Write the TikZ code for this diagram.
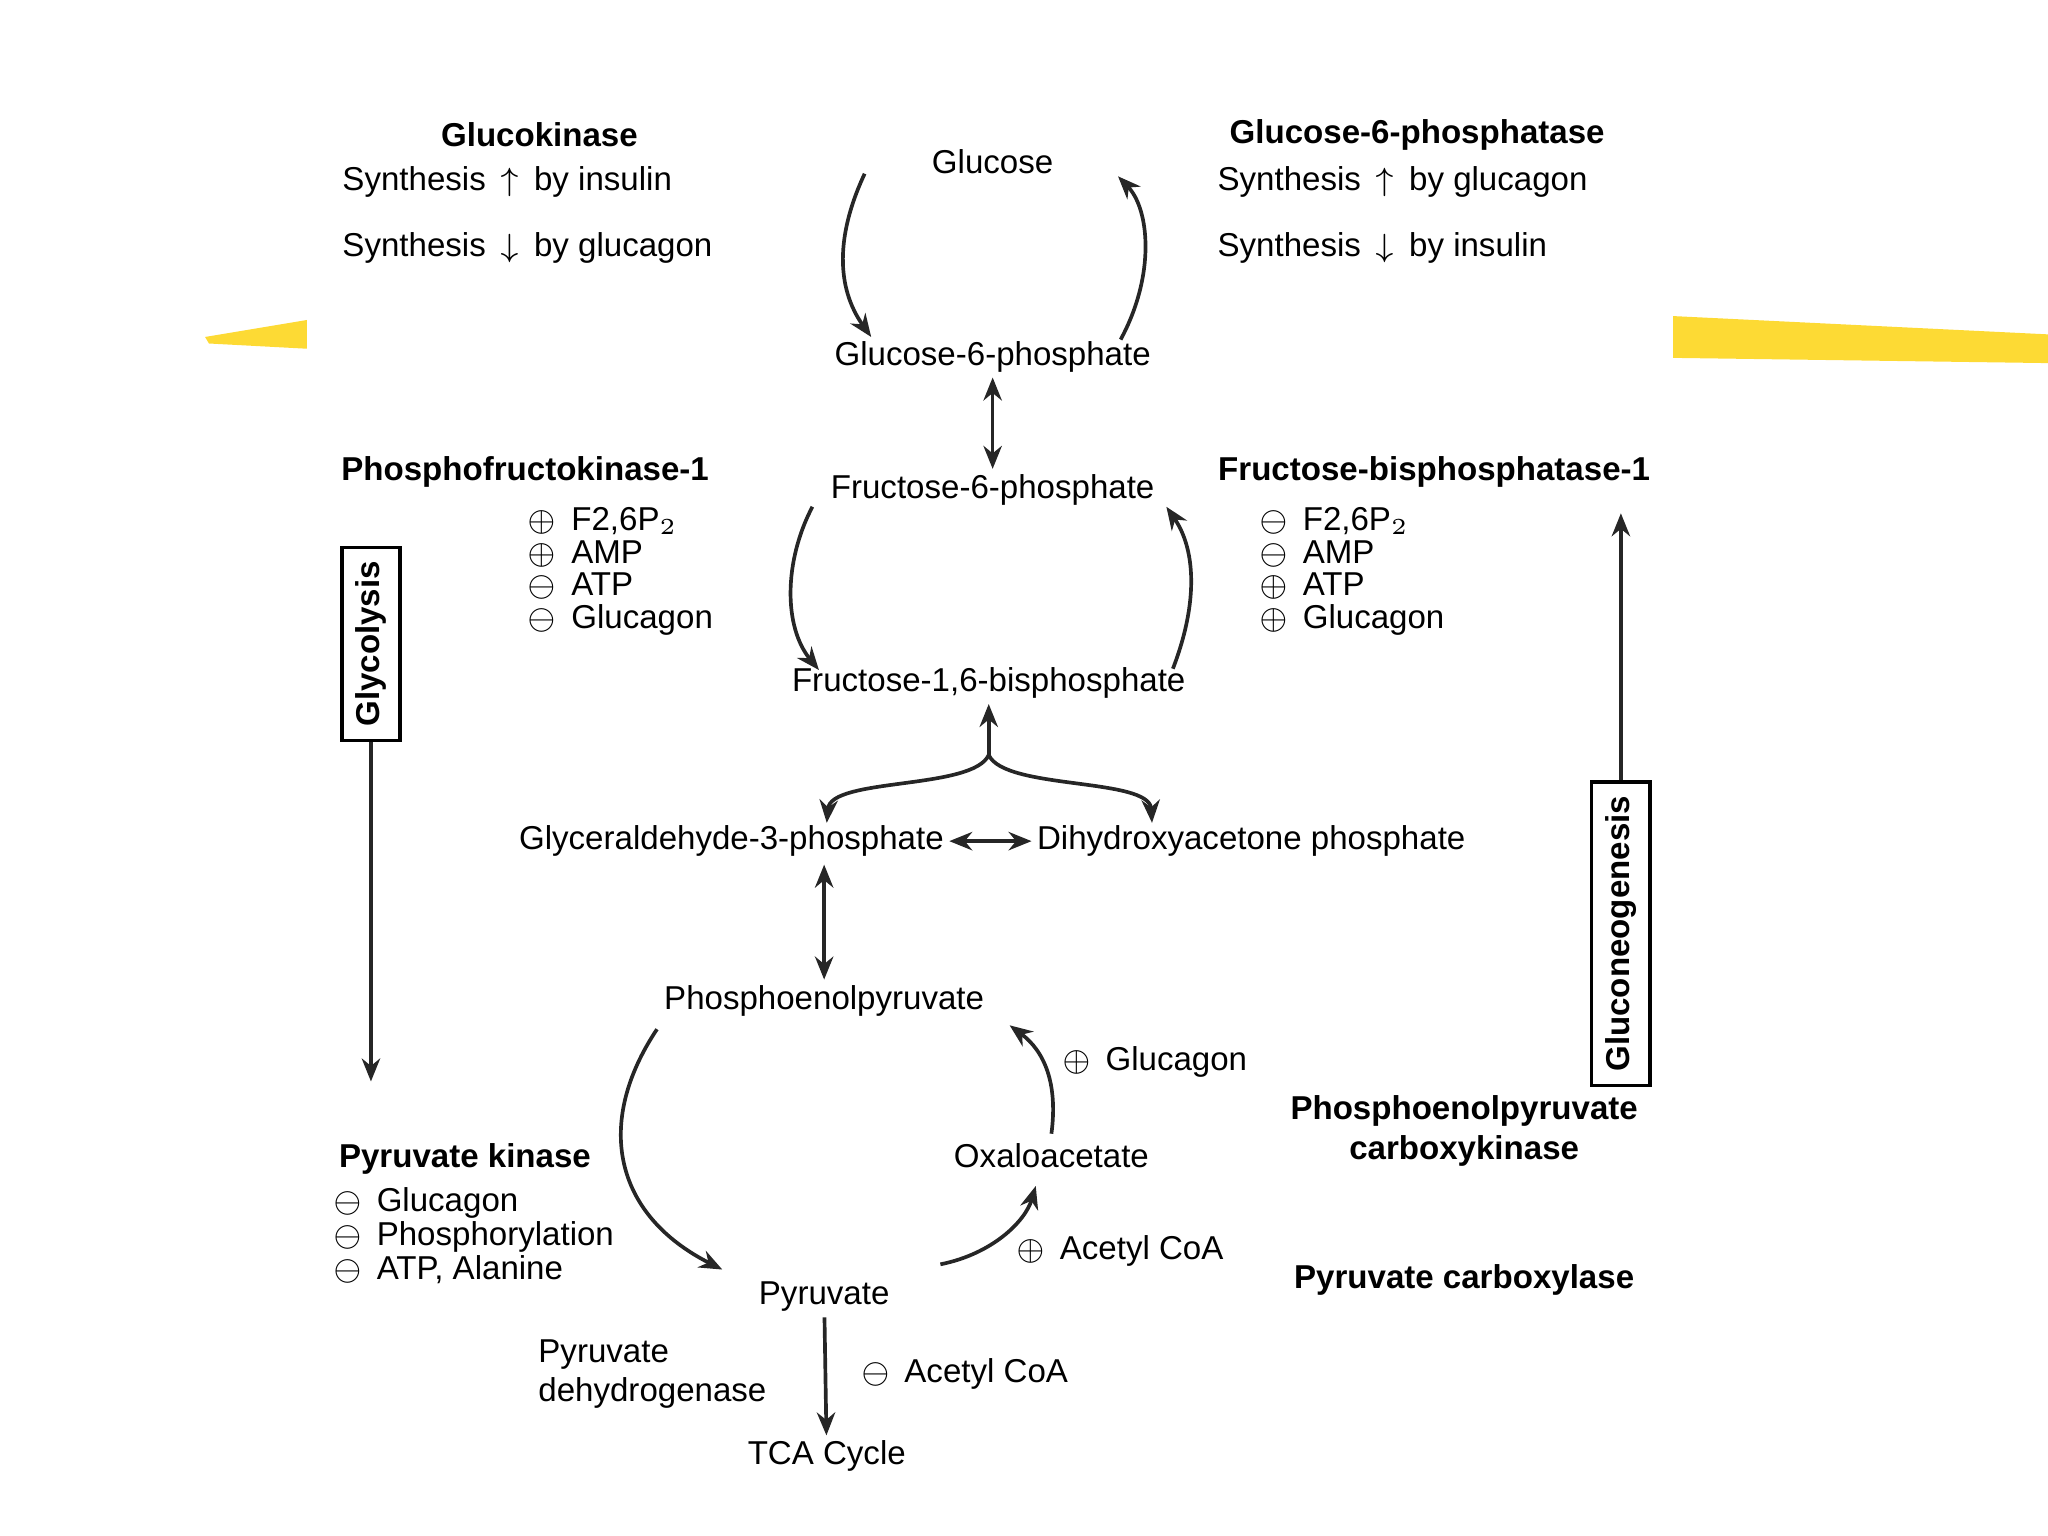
\documentclass[tikz,border=0pt]{standalone}
\usepackage{fontspec}
\setmainfont{Liberation Sans}
\usetikzlibrary{arrows.meta}
\begin{document}
\fontsize{7.2}{8.6}\selectfont
\begin{tikzpicture}[x=0.01cm,y=-0.01cm,auto=center,
	met/.style={inner sep=1pt},
	enz/.style={font=\bfseries,inner sep=1pt},
	lst/.style={anchor=west,inner sep=1pt},
	rx/.style={-{Stealth[length=5pt,width=4pt]},thick,color=black!85},
	rxx/.style={{Stealth[length=5pt,width=4pt]}-{Stealth[length=5pt,width=4pt]},thick,color=black!85},
	pathbox/.style={draw,thick,rotate=90,font=\bfseries,inner sep=3pt}]
			\useasboundingbox (0,0) rectangle (1568,1176);
			\fill[yellow!70!orange!80] (157,258) -- (235,245) -- (235,267) -- (160,263) -- cycle;
			\fill[yellow!70!orange!80] (1281,242) -- (1568,256) -- (1568,278) -- (1281,274) -- cycle;

			% metabolites
			\node[met] (glc) at (760,124) {Glucose};
			\node[met] (g6p) at (760,273) {Glucose-6-phosphate};
			\node[met] (f6p) at (760,375) {Fructose-6-phosphate};
			\node[met] (fbp) at (757,523) {Fructose-1,6-bisphosphate};
			\node[met] (gap) at (560,644) {Glyceraldehyde-3-phosphate};
			\node[met] (dhap) at (958,644) {Dihydroxyacetone phosphate};
			\node[met] (pep) at (631,766) {Phosphoenolpyruvate};
			\node[met] (oaa) at (805,885) {Oxaloacetate};
			\node[met] (pyr) at (631,993) {Pyruvate};
			\node[met] (tca) at (633,1115) {TCA Cycle};

			\coordinate (glcL) at (662,133);
			\coordinate (g6pL) at (667,258);
			\coordinate (glcR) at (856,135);
			\coordinate (g6pR) at (858,260);
			\coordinate (oaaT) at (805,868);
			\coordinate (gapB) at (631,662);
			\coordinate (fork) at (757,578);
			\coordinate (glyA) at (284,828);
			\coordinate (gngA) at (1241,393);

			% reactions
			\draw[rx] (glcL) .. controls (640,180) and (640,220) .. (g6pL);
			\draw[rx] (g6pR) .. controls (885,210) and (880,160) .. (glcR);
			\draw[rxx] (g6p) -- (f6p);
			\draw[rx] (622,388) .. controls (600,430) and (600,480) .. (627,513);
			\draw[rx] (898,512) .. controls (918,460) and (915,420) .. (893,388);
			\draw[rx] (fork) -- (fbp);
			\draw[rx] (fork) .. controls (745,605) and (636,595) .. (633,630);
			\draw[rx] (fork) .. controls (769,605) and (880,595) .. (882,630);
			\draw[rxx] (gap) -- (dhap);
			\draw[rxx] (gapB) -- (pep);
			\draw[rx] (503,788) .. controls (455,860) and (470,930) .. (553,972);
			\draw[rx] (720,968) .. controls (760,960) and (785,935) .. (793,908);
			\draw[rx] (oaaT) .. controls (810,830) and (800,805) .. (773,785);
			\draw[rx] (pyr) -- (tca);

			% pathway boxes
			\node[pathbox] (gly) at (284,493) {Glycolysis};
			\draw[rx] (gly) -- (glyA);
			\node[pathbox] (gng) at (1241,715) {Gluconeogenesis};
			\draw[rx] (gng) -- (gngA);

			% enzymes and regulation
			\node[enz] (gk) at (413,103) {Glucokinase};
			\node[lst] (gk1) at (258,139) {Synthesis \,$\uparrow$\, by insulin};
			\node[lst] (gk2) at (258,190) {Synthesis \,$\downarrow$\, by glucagon};
			\node[enz] (gsp) at (1085,103) {Glucose-6-phosphatase};
			\node[lst] (gsp1) at (928,139) {Synthesis \,$\uparrow$\, by glucagon};
			\node[lst] (gsp2) at (928,190) {Synthesis \,$\downarrow$\, by insulin};

			\node[enz] (pfk) at (402,361) {Phosphofructokinase-1};
			\node[lst] (pfk1) at (400,399) {$\oplus$\, F2,6P$_2$};
			\node[lst] (pfk2) at (400,424) {$\oplus$\, AMP};
			\node[lst] (pfk3) at (400,449) {$\ominus$\, ATP};
			\node[lst] (pfk4) at (400,475) {$\ominus$\, Glucagon};

			\node[enz] (fbpase) at (1098,361) {Fructose-bisphosphatase-1};
			\node[lst] (fb1) at (960,399) {$\ominus$\, F2,6P$_2$};
			\node[lst] (fb2) at (960,424) {$\ominus$\, AMP};
			\node[lst] (fb3) at (960,449) {$\oplus$\, ATP};
			\node[lst] (fb4) at (960,475) {$\oplus$\, Glucagon};

			\node[enz] (pk) at (356,887) {Pyruvate kinase};
			\node[lst] (pk1) at (251,921) {$\ominus$\, Glucagon};
			\node[lst] (pk2) at (251,947) {$\ominus$\, Phosphorylation};
			\node[lst] (pk3) at (251,972) {$\ominus$\, ATP, Alanine};

			\node[lst] (oaaR) at (809,813) {$\oplus$\, Glucagon};
			\node[lst] (pcR) at (774,958) {$\oplus$\, Acetyl CoA};
			\node[lst] (pdhR) at (655,1052) {$\ominus$\, Acetyl CoA};

			\node[enz,align=center] (pepck) at (1121,866) {Phosphoenolpyruvate\\carboxykinase};
			\node[enz] (pc) at (1121,980) {Pyruvate carboxylase};
			\node[lst,align=left] (pdh) at (408,1052) {Pyruvate\\dehydrogenase};
\end{tikzpicture}
\end{document}
